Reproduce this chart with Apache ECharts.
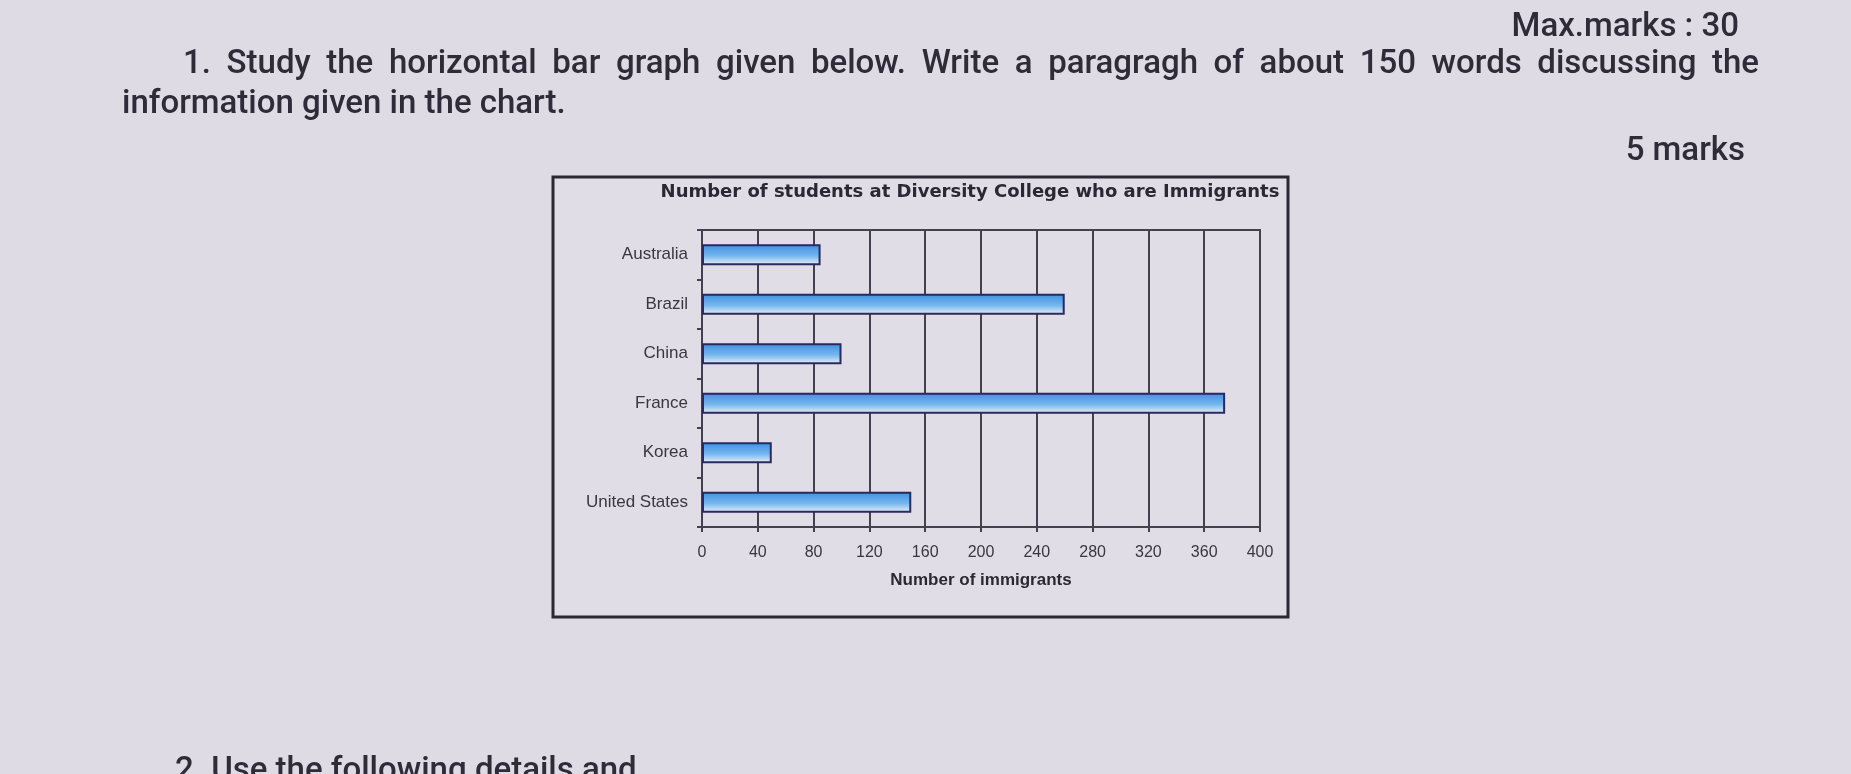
<!DOCTYPE html>
<html>
<head>
<meta charset="utf-8">
<script src="https://cdn.jsdelivr.net/npm/echarts@6/dist/echarts.min.js"></script>
<style>
html,body{margin:0;padding:0;background:#dedbe4;}
#main{width:1851px;height:774px;}
</style>
</head>
<body>
<div id="main"></div>
<script>
const categories = ['Australia', 'Brazil', 'China', 'France', 'Korea', 'United States'];
const immigrants = [85, 260, 100, 375, 50, 150];
const xMin = 0, xMax = 400, xStep = 40;
const chartTitle = 'Number of students at Diversity College who are Immigrants';
const xAxisName = 'Number of immigrants';
const pageTexts = {
  maxMarks: 'Max.marks : 30',
  line1: '1. Study the horizontal bar graph given below. Write a paragragh of about 150 words discussing the',
  line2: 'information given in the chart.',
  marks: '5 marks',
  next: '2. Use the following details and'
};

const chart = echarts.init(document.getElementById('main'));
const ink = '#2f2c3a';
const headFont = '500 33px Roboto, "Liberation Sans", sans-serif';

// justified first line of the question
const line1Left = 183, line1Right = 1759;
const mctx = document.createElement('canvas').getContext('2d');
mctx.font = headFont;
const words = pageTexts.line1.split(' ');
const widths = words.map(w => mctx.measureText(w).width);
const totalW = widths.reduce((a, b) => a + b, 0);
const gap = (line1Right - line1Left - totalW) / (words.length - 1);
const line1Graphics = [];
let cx = line1Left;
words.forEach((w, i) => {
  line1Graphics.push({ type: 'text', style: { text: w, x: cx, y: 65, textAlign: 'left', textVerticalAlign: 'middle', font: headFont, fill: ink } });
  cx += widths[i] + gap;
});

chart.setOption({
  backgroundColor: '#dedbe4',
  animation: false,
  graphic: [
    { type: 'text', style: { text: pageTexts.maxMarks, x: 1739, y: 28, textAlign: 'right', textVerticalAlign: 'middle', font: headFont, fill: ink } },
    ...line1Graphics,
    { type: 'text', style: { text: pageTexts.line2, x: 122, y: 105, textAlign: 'left', textVerticalAlign: 'middle', font: headFont, fill: ink } },
    { type: 'text', style: { text: pageTexts.marks, x: 1745, y: 152, textAlign: 'right', textVerticalAlign: 'middle', font: headFont, fill: ink } },
    { type: 'text', style: { text: pageTexts.next, x: 175, y: 772, textAlign: 'left', textVerticalAlign: 'middle', font: headFont, fill: ink } },
    { type: 'rect', shape: { x: 553, y: 177, width: 735, height: 440 }, style: { fill: 'rgba(255,255,255,0.08)', stroke: '#2b2836', lineWidth: 3 }, z: -1 },
    { type: 'text', style: { text: chartTitle, x: 970, y: 192, textAlign: 'center', textVerticalAlign: 'middle', font: 'bold 18px "DejaVu Sans", sans-serif', fill: '#2b2836' } }
  ],
  grid: { left: 702, right: 591, top: 230, bottom: 247, show: true, borderColor: '#45404f', borderWidth: 2, backgroundColor: 'transparent' },
  xAxis: {
    type: 'value', min: xMin, max: xMax, interval: xStep,
    name: xAxisName, nameLocation: 'middle', nameGap: 45,
    nameTextStyle: { fontFamily: 'Liberation Sans', fontWeight: 'bold', fontSize: 17, color: '#2b2836' },
    axisLine: { show: true, lineStyle: { color: '#45404f', width: 2 } },
    axisTick: { show: true, length: 5, lineStyle: { color: '#45404f', width: 2 } },
    axisLabel: { fontFamily: 'Liberation Sans', fontSize: 16, color: '#3a3642', margin: 18 },
    splitLine: { show: true, lineStyle: { color: '#45404f', width: 2 } }
  },
  yAxis: {
    type: 'category', data: categories, inverse: true,
    axisLine: { show: true, lineStyle: { color: '#45404f', width: 2 } },
    axisTick: { show: true, length: 5, lineStyle: { color: '#45404f', width: 2 } },
    axisLabel: { fontFamily: 'Liberation Sans', fontSize: 17, color: '#3a3642', margin: 14 },
    splitLine: { show: false }
  },
  series: [{
    type: 'bar', data: immigrants, barWidth: 21,
    itemStyle: {
      borderColor: '#2b2a5c', borderWidth: 2,
      color: new echarts.graphic.LinearGradient(0, 0, 0, 1, [
        { offset: 0, color: '#3f8fe0' },
        { offset: 0.55, color: '#74b6ee' },
        { offset: 0.85, color: '#c6def3' },
        { offset: 1, color: '#eef3fa' }
      ])
    }
  }]
});
</script>
</body>
</html>
